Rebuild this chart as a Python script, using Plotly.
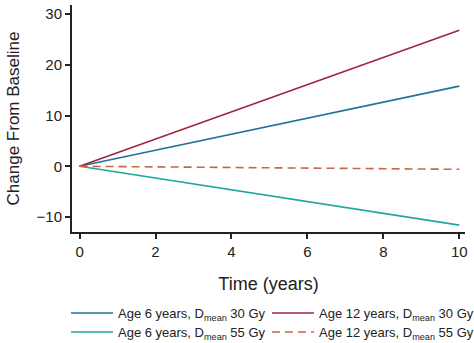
import plotly.graph_objects as go

time_years = [0, 10]
age6_30 = [0, 15.8]
age12_30 = [0, 26.8]
age6_55 = [0, -11.6]
age12_55 = [0, -0.6]

names = [
    "Age 6 years, D<sub>mean</sub> 30 Gy",
    "Age 6 years, D<sub>mean</sub> 55 Gy",
    "Age 12 years, D<sub>mean</sub> 30 Gy",
    "Age 12 years, D<sub>mean</sub> 55 Gy",
]
series = [age6_30, age6_55, age12_30, age12_55]
colors = ["#22739a", "#1fa79c", "#9c2640", "#c8693c"]
dashes = ["solid", "solid", "solid", "8px,5px"]
legends = ["legend", "legend2", "legend3", "legend4"]

fig = go.Figure()
for n, s, c, d, lg in zip(names, series, colors, dashes, legends):
    fig.add_trace(go.Scatter(x=time_years, y=s, mode="lines", name=n,
                             line=dict(color=c, width=1.6, dash=d),
                             legend=lg, showlegend=True))

W, H = 474, 343
L, R, T, B = 72, 9, 5, 111
PW, PH = W - L - R, H - T - B


def px_x(px):
    return (px - L) / PW


def px_y(py):
    return (H - B - py) / PH


font = "Liberation Sans, Arial, sans-serif"
leg_common = dict(xanchor="left", yanchor="middle", font=dict(size=13),
                  visible=True, bgcolor="rgba(0,0,0,0)", itemwidth=42)
fig.update_layout(
    width=W, height=H, showlegend=True,
    margin=dict(l=L, r=R, t=T, b=B, autoexpand=False),
    plot_bgcolor="white", paper_bgcolor="white",
    font=dict(family=font, color="#222", size=15),
    xaxis=dict(range=[-0.2, 10.15], tickvals=[0, 2, 4, 6, 8, 10],
               showgrid=False, zeroline=False, showline=True, automargin=False,
               linecolor="#222", linewidth=2, ticks="outside",
               ticklen=5, tickwidth=1.5, tickcolor="#222",
               tickfont=dict(size=15),
               title=dict(text="Time (years)", font=dict(size=18), standoff=18)),
    yaxis=dict(range=[-12.96, 31.8], tickvals=[-10, 0, 10, 20, 30],
               ticktext=["\u221210", "0", "10", "20", "30"],
               showgrid=False, zeroline=False, showline=True, automargin=False,
               linecolor="#222", linewidth=2, ticks="outside",
               ticklen=5, tickwidth=1.5, tickcolor="#222",
               tickfont=dict(size=15),
               title=dict(text="Change From Baseline", font=dict(size=17), standoff=13)),
    legend=dict(x=px_x(66), y=px_y(313), **leg_common),
    legend2=dict(x=px_x(66), y=px_y(332), **leg_common),
    legend3=dict(x=px_x(267), y=px_y(313), **leg_common),
    legend4=dict(x=px_x(267), y=px_y(332), **leg_common),
)

fig.write_html("out.html")
